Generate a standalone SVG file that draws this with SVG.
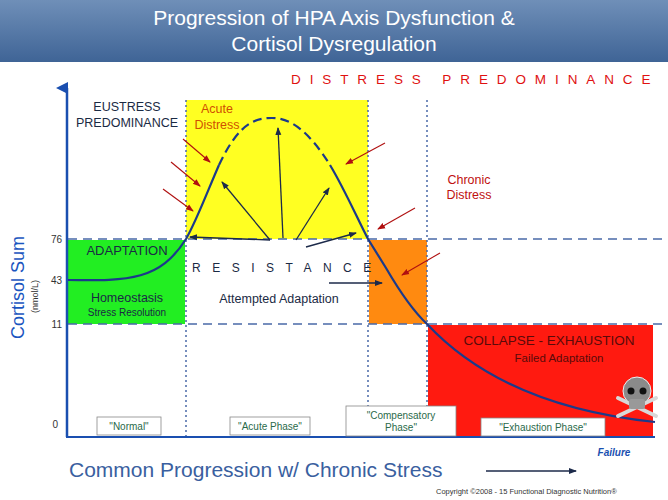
<svg xmlns="http://www.w3.org/2000/svg" width="668" height="500" viewBox="0 0 668 500">
<defs>
<linearGradient id="hdr" x1="0" y1="0" x2="0" y2="1"><stop offset="0" stop-color="#6f8fb8"/><stop offset="1" stop-color="#3f6496"/></linearGradient>
<marker id="ka" markerWidth="8" markerHeight="8" refX="7" refY="4" orient="auto" markerUnits="userSpaceOnUse"><path d="M0,1 L8,4 L0,7 Z" fill="#1c2a4a"/></marker>
<marker id="ra" markerWidth="8" markerHeight="8" refX="7" refY="4" orient="auto" markerUnits="userSpaceOnUse"><path d="M0,1 L8,4 L0,7 Z" fill="#b01010"/></marker>
<marker id="ba" markerWidth="12" markerHeight="12" refX="6" refY="11" orient="auto-start-reverse" markerUnits="userSpaceOnUse"><path d="M0,12 L6,0 L12,12 Z" fill="#1a4fb0"/></marker>
</defs>
<style>
text{font-family:"Liberation Sans",Arial,sans-serif}
.dot{stroke:#4a6aa8;stroke-width:1.5;stroke-dasharray:2 3;fill:none}
.dash{stroke:#4a6aa8;stroke-width:1.5;stroke-dasharray:9 6;fill:none}
.k{stroke:#1c2a4a;stroke-width:1.3;fill:none;marker-end:url(#ka)}
.r{stroke:#b01010;stroke-width:1.1;fill:none;marker-end:url(#ra)}
.ph{fill:#fff;stroke:#888;stroke-width:0.8}
.pt{fill:#2a6a4a;font-size:10px;text-anchor:middle}
</style>
<rect width="668" height="500" fill="#fff"/>
<g id="header"><rect width="668" height="62" fill="url(#hdr)"/>
<text x="334" y="25" font-size="21" fill="#fff" text-anchor="middle">Progression of HPA Axis Dysfunction &amp;</text>
<text x="334" y="51" font-size="21" fill="#fff" text-anchor="middle">Cortisol Dysregulation</text></g>
<g id="zones">
<rect x="68" y="240" width="117" height="84" fill="#22ee22"/>
<rect x="186" y="100" width="182" height="139" fill="#ffff22"/>
<rect x="369" y="240" width="58" height="84" fill="#ff8a10"/>
<rect x="428" y="325" width="225" height="111" fill="#ff1a10"/>
</g>
<g id="grid">
<line class="dot" x1="186" y1="100" x2="186" y2="437"/>
<line class="dot" x1="368" y1="100" x2="368" y2="437"/>
<line class="dot" x1="427" y1="100" x2="427" y2="437"/>
<line class="dash" x1="68" y1="239" x2="662" y2="239"/>
<line class="dash" x1="68" y1="324" x2="662" y2="324"/>
</g>
<g id="axes">
<line x1="67" y1="437" x2="67" y2="88" stroke="#1a4fb0" stroke-width="2.5" marker-end="url(#ba)"/>
<line x1="66" y1="437" x2="655" y2="437" stroke="#1a4fb0" stroke-width="2"/>
<text x="24" y="339" font-size="18" fill="#1a55c0" transform="rotate(-90 24 339)">Cortisol Sum</text>
<text x="38" y="313" font-size="9" fill="#333" transform="rotate(-90 38 313)">(nmol/L)</text>
<g font-size="10" fill="#333" text-anchor="end"><text x="62" y="243">76</text><text x="62" y="284">43</text><text x="62" y="328">11</text><text x="58" y="428">0</text></g>
</g>
<g id="curve" fill="none" stroke="#1c3a8a" stroke-width="2.2">
<path d="M68,280 C130,281 160,280 186,239 C196,222 208,190 219,165"/>
<path d="M219,165 C240,120 258,118 272,118 C290,118 308,130 330,165" stroke-dasharray="9 5"/>
<path d="M330,165 C345,190 358,220 368,239 L386,268 C400,292 412,310 427,324 C470,370 540,410 655,422"/>
</g>
<g id="connectors">
<line class="k" x1="270" y1="240" x2="190" y2="237"/>
<line class="k" x1="270" y1="240" x2="222" y2="182"/>
<line class="k" x1="283" y1="238" x2="278" y2="128"/>
<line class="k" x1="296" y1="240" x2="329" y2="188"/>
<line class="k" x1="306" y1="247" x2="356" y2="233"/>
<line class="k" x1="329" y1="283" x2="382" y2="283"/>
<line class="r" x1="183" y1="139" x2="210" y2="162"/>
<line class="r" x1="171" y1="162" x2="200" y2="186"/>
<line class="r" x1="163" y1="189" x2="193" y2="211"/>
<line class="r" x1="385" y1="143" x2="346" y2="164"/>
<line class="r" x1="415" y1="208" x2="378" y2="229"/>
<line class="r" x1="440" y1="253" x2="402" y2="275"/>
</g>
<g id="labels">
<text x="291" y="84" font-size="13.5" fill="#e01010" letter-spacing="8.9">DISTRESS PREDOMINANCE</text>
<text x="127" y="111" font-size="12.5" fill="#1a2a44" text-anchor="middle">EUSTRESS</text>
<text x="127" y="127" font-size="12.5" fill="#1a2a44" text-anchor="middle">PREDOMINANCE</text>
<text x="217" y="113" font-size="12.5" fill="#d05000" text-anchor="middle">Acute</text>
<text x="217" y="129" font-size="12.5" fill="#d05000" text-anchor="middle">Distress</text>
<text x="469" y="184" font-size="12.5" fill="#c01010" text-anchor="middle">Chronic</text>
<text x="469" y="199" font-size="12.5" fill="#c01010" text-anchor="middle">Distress</text>
<text x="127" y="255" font-size="13" fill="#1a2a44" text-anchor="middle">ADAPTATION</text>
<text x="127" y="302" font-size="12.5" fill="#1a2a44" text-anchor="middle">Homeostasis</text>
<text x="127" y="316" font-size="10" fill="#1a2a44" text-anchor="middle">Stress Resolution</text>
<text x="192" y="272" font-size="12" fill="#1a2a44" letter-spacing="11.5">RESISTANCE</text>
<text x="279" y="303" font-size="12.5" fill="#1a2a44" text-anchor="middle">Attempted  Adaptation</text>
<text x="549" y="345" font-size="13.5" fill="#5a0a0a" text-anchor="middle">COLLAPSE - EXHAUSTION</text>
<text x="559" y="362" font-size="11.5" fill="#5a0a0a" text-anchor="middle">Failed Adaptation</text>
<text x="614" y="456" font-size="10" fill="#1a4fb0" font-style="italic" font-weight="bold" text-anchor="middle">Failure</text>
<text x="69" y="477" font-size="21" fill="#3a5fa0">Common Progression w/ Chronic Stress</text>
<line x1="486" y1="471" x2="576" y2="471" stroke="#1c2a4a" stroke-width="1.5" marker-end="url(#ka)"/>
<text x="436" y="494" font-size="7.5" fill="#333">Copyright ©2008 - 15 Functional Diagnostic Nutrition®</text>
</g>
<g id="skull">
<path d="M618,398 L656,416 M656,398 L618,416" stroke="#d8d8d8" stroke-width="4" stroke-linecap="round"/>
<ellipse cx="637" cy="391" rx="14" ry="14" fill="#8a8a8a" stroke="#eee" stroke-width="1"/>
<rect x="629" y="399" width="16" height="10" rx="2" fill="#999"/>
<circle cx="631" cy="391" r="3.5" fill="#111"/><circle cx="643" cy="391" r="3.5" fill="#111"/>
</g>
<g id="phases">
<rect class="ph" x="97" y="417" width="64" height="18"/><text class="pt" x="129" y="430">"Normal"</text>
<rect class="ph" x="230" y="417" width="80" height="18"/><text class="pt" x="270" y="430">"Acute Phase"</text>
<rect class="ph" x="346" y="406" width="110" height="30"/><text class="pt" x="401" y="419">"Compensatory</text><text class="pt" x="401" y="431">Phase"</text>
<rect class="ph" x="481" y="418" width="124" height="18"/><text class="pt" x="543" y="431">"Exhaustion Phase"</text>
</g>
</svg>
